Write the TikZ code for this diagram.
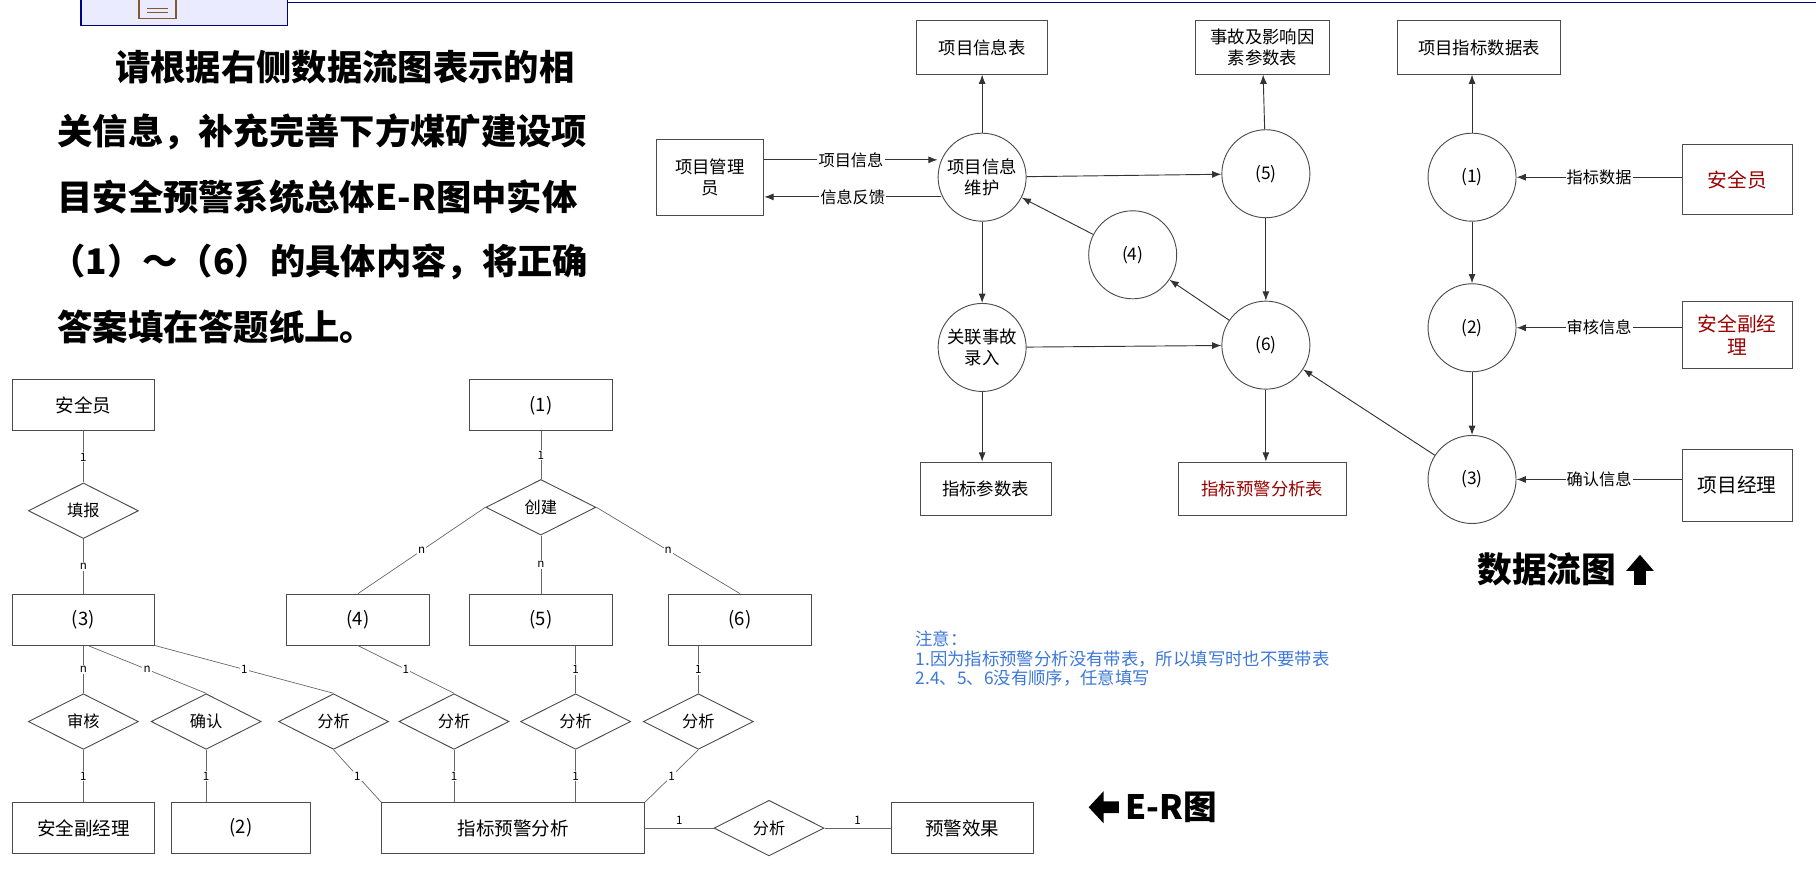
\documentclass[tikz,border=0pt]{standalone}
\usepackage{fontspec}
\setmainfont{Noto Sans CJK SC}
\usetikzlibrary{shapes.geometric,arrows.meta}
\begin{document}
\begin{tikzpicture}[x=1pt,y=-1pt,
  box/.style={draw=black!70,line width=0.8pt,minimum width=113,minimum height=46,inner sep=2pt,align=center,font=\fontsize{15}{18}\selectfont},
  proc/.style={draw=black!70,line width=0.8pt,circle,minimum size=76,inner sep=0pt,align=center,font=\fontsize{15}{18}\selectfont},
  ent/.style={draw=black!70,line width=0.8pt,minimum width=123,minimum height=44,inner sep=0pt,font=\fontsize{16}{19}\selectfont},
  rel/.style={draw=black!70,line width=0.8pt,diamond,aspect=2,minimum width=95,minimum height=48,inner sep=0pt,font=\fontsize{14}{16}\selectfont},
  fl/.style={draw=black!80,line width=0.8pt,-{Latex[length=8,width=6]}},
  er/.style={draw=black!60,line width=0.6pt},
  card/.style={fill=white,inner sep=1pt,font=\fontsize{10}{11}\selectfont},
  flab/.style={fill=white,inner sep=1pt,font=\fontsize{14}{16}\selectfont},
  red/.style={text=red!60!black}]
\useasboundingbox (0,0) rectangle (1568,750);
% header remnant
\fill[blue!8] (70,-2) rectangle (248,22);
\draw[blue!50!black,line width=1pt] (70,-2) -- (70,22) -- (248,22) -- (248,-2);
\draw[blue!50!black,line width=1pt] (248,2) -- (1568,2);
\draw[brown!70!black,line width=1.2pt] (120,-2) -- (120,16) -- (152,16) -- (152,-2);
\draw[brown!70!black,line width=0.8pt] (127,7) -- (145,7) (127,11) -- (145,11);
% paragraph
\begin{scope}[every node/.style={anchor=west,font=\bfseries\fontsize{30.5}{32}\selectfont}]
\node (p1) at (96,58) {请根据右侧数据流图表示的相};
\node (p2) at (46,114) {关信息，补充完善下方煤矿建设项};
\node (p3) at (46,170) {目安全预警系统总体E-R图中实体};
\node (p4) at (40,226) {（1）～（6）的具体内容，将正确};
\node (p5) at (46,282) {答案填在答题纸上。};
\end{scope}
% DFD
\node[box] (xmb) at (848,41) {项目信息表};
\node[box,minimum width=115] (sg) at (1090,41) {事故及影响因\\素参数表};
\node[box,minimum width=141] (zbsj) at (1277,41) {项目指标数据表};
\node[box,minimum width=93,minimum height=66] (gly) at (613,153) {项目管理\\员};
\node[proc] (wh) at (848,153) {项目信息\\维护};
\node[proc] (p5c) at (1093,150) {(5)};
\node[proc] (p1c) at (1271,153) {(1)};
\node[box,minimum width=95,minimum height=61,red,font=\fontsize{17}{20}\selectfont] (aqy) at (1500,155) {安全员};
\node[proc] (p4c) at (978,220) {(4)};
\node[proc] (p2c) at (1271,283) {(2)};
\node[box,minimum width=95,minimum height=58,red,font=\fontsize{17}{20}\selectfont] (fjl) at (1500,289) {安全副经\\理};
\node[proc] (gl) at (848,300) {关联事故\\录入};
\node[proc] (p6c) at (1093,298) {(6)};
\node[proc] (p3c) at (1271,414) {(3)};
\node[box,minimum width=95,minimum height=62,font=\fontsize{17}{20}\selectfont] (xmjl) at (1500,419) {项目经理};
\node[box] (zbcs) at (851,422) {指标参数表};
\node[box,minimum width=145,red] (yjb) at (1090,422) {指标预警分析表};
\node[anchor=west,font=\bfseries\fontsize{30}{32}\selectfont] (dfdt) at (1272,492) {数据流图};
\fill (1411,505) -- (1411,493) -- (1404,493) -- (1416,479) -- (1428,493) -- (1421,493) -- (1421,505) -- cycle;
\draw[fl] ([yshift=15]gly.east) -- node[flab]{项目信息} ([yshift=15]gly.east -| wh.west);
\draw[fl] ([yshift=-17]gly.east -| wh.west) ++(3,0) -- node[flab]{信息反馈} ([yshift=-17]gly.east);
\draw[fl] (wh) -- (xmb);
\draw[fl] (wh) -- (p5c);
\draw[fl] (p5c) -- (sg);
\draw[fl] (p4c) -- (wh);
\draw[fl] (p6c) -- (p4c);
\draw[fl] (wh) -- (gl);
\draw[fl] (gl) -- (p6c);
\draw[fl] (p5c) -- (p6c);
\draw[fl] (p6c) -- (yjb.north -| p6c);
\draw[fl] (gl) -- (zbcs.north -| gl);
\draw[fl] (p1c) -- (zbsj.south -| p1c);
\draw[fl] (aqy.west |- p1c) -- node[flab]{指标数据} (p1c);
\draw[fl] (p1c) -- (p2c);
\draw[fl] (fjl.west |- p2c) -- node[flab]{审核信息} (p2c);
\draw[fl] (p2c) -- (p3c);
\draw[fl] (xmjl.west |- p3c) -- node[flab]{确认信息} (p3c);
\draw[fl] (p3c) -- (p6c);
% note
\node[anchor=north west,align=left,text={rgb,255:red,60;green,120;blue,215},font=\fontsize{15}{17}\selectfont] (note) at (787,541) {注意：\\1.因为指标预警分析没有带表，所以填写时也不要带表\\2.4、5、6没有顺序，任意填写};
\node[anchor=west,font=\bfseries\fontsize{29}{31}\selectfont] (ert) at (968,697) {E-R图};
\fill (940,697) -- (953,683) -- (953,692) -- (966,692) -- (966,702) -- (953,702) -- (953,711) -- cycle;
% ER
\node[ent] (e_aqy) at (72,350) {安全员};
\node[ent] (e1) at (467,350) {(1)};
\node[rel] (r_tb) at (72,441) {填报};
\node[rel] (r_cj) at (467,438) {创建};
\node[ent] (e3) at (72,535) {(3)};
\node[ent] (e4) at (309,535) {(4)};
\node[ent] (e5) at (467,535) {(5)};
\node[ent] (e6) at (639,535) {(6)};
\node[rel] (r_sh) at (72,623) {审核};
\node[rel] (r_qr) at (178,623) {确认};
\node[rel] (r_f1) at (288,623) {分析};
\node[rel] (r_f2) at (392,623) {分析};
\node[rel] (r_f3) at (497,623) {分析};
\node[rel] (r_f4) at (603,623) {分析};
\node[ent] (e_fjl) at (72,715) {安全副经理};
\node[ent,minimum width=120] (e2) at (208,715) {(2)};
\node[ent,minimum width=227] (e_yj) at (443,715) {指标预警分析};
\node[ent] (e_xg) at (831,715) {预警效果};
\node[rel] (r_f5) at (664,715) {分析};
\draw[er] (e_aqy) -- node[card]{1} (r_tb);
\draw[er] (r_tb) -- node[card]{n} (e3);
\draw[er] (e1) -- node[card]{1} (r_cj);
\draw[er] (r_cj.west) -- node[card]{n} (e4.north);
\draw[er] (r_cj) -- node[card]{n} (e5);
\draw[er] (r_cj.east) -- node[card]{n} (e6.north);
\draw[er] (e3) -- node[card]{n} (r_sh);
\draw[er] (r_sh) -- node[card]{1} (e_fjl);
\draw[er] ([xshift=4]e3.south) -- node[card]{n} (r_qr.north);
\draw[er] (r_qr) -- node[card]{1} (e2.north -| r_qr);
\draw[er] (e3.south east) -- node[card]{1} (r_f1.north);
\draw[er] (r_f1.south) -- node[card]{1} (e_yj.north west);
\draw[er] (e4.south) -- node[card]{1} (r_f2.north);
\draw[er] (r_f2) -- node[card]{1} (e_yj.north -| r_f2);
\draw[er] (e5.south -| r_f3) -- node[card]{1} (r_f3);
\draw[er] (r_f3) -- node[card]{1} (e_yj.north -| r_f3);
\draw[er] (e6.south -| r_f4) -- node[card]{1} (r_f4);
\draw[er] (r_f4.south) -- node[card]{1} (e_yj.north east);
\draw[er] (e_yj) -- node[card,above=2pt]{1} (r_f5);
\draw[er] (r_f5) -- node[card,above=2pt]{1} (e_xg);
\end{tikzpicture}
\end{document}
